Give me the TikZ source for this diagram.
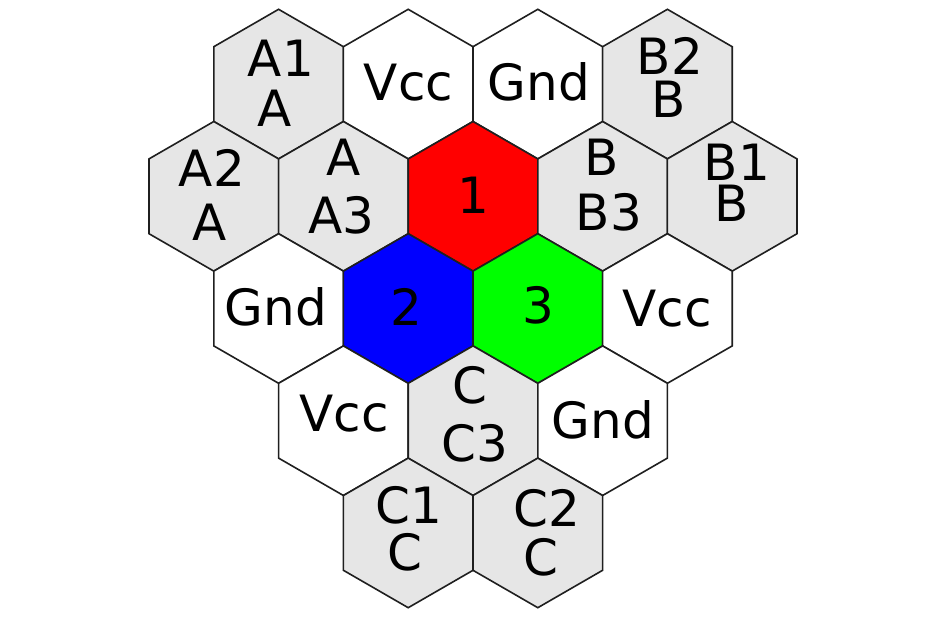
\documentclass[tikz,border=0pt]{standalone}
\usepackage{fontspec}
\setmainfont{DejaVu Sans}
\definecolor{hexgrey}{HTML}{E6E6E6}
\definecolor{hexred}{HTML}{FF0000}
\definecolor{hexblue}{HTML}{0000FF}
\definecolor{hexgreen}{HTML}{00FF00}
\newcommand\hexcell[3]{\filldraw[hexline, fill=#3] (#1,#2) ++(0,-74.8) -- ++(64.8,37.4) -- ++(0,74.8) -- ++(-64.8,37.4) -- ++(-64.8,-37.4) -- ++(0,-74.8) -- cycle;}
\begin{document}
\begin{tikzpicture}[x=1pt,y=-1pt,
  hexline/.style={draw=black!88, line width=1.6pt, line join=miter},
  lbl/.style={anchor=base, inner sep=0pt, font=\fontsize{50}{50}\selectfont}]
\useasboundingbox (0,0) rectangle (944,624);
\fill[white] (0,0) rectangle (944,624);
% row 0
\hexcell{278.6}{84.1}{hexgrey}
\hexcell{408.2}{84.1}{white}
\hexcell{537.8}{84.1}{white}
\hexcell{667.4}{84.1}{hexgrey}
% row 1
\hexcell{213.8}{196.3}{hexgrey}
\hexcell{343.4}{196.3}{hexgrey}
\hexcell{473.0}{196.3}{hexred}
\hexcell{602.6}{196.3}{hexgrey}
\hexcell{732.2}{196.3}{hexgrey}
% row 2
\hexcell{278.6}{308.5}{white}
\hexcell{408.2}{308.5}{hexblue}
\hexcell{537.8}{308.5}{hexgreen}
\hexcell{667.4}{308.5}{white}
% row 3
\hexcell{343.4}{420.7}{white}
\hexcell{473.0}{420.7}{hexgrey}
\hexcell{602.6}{420.7}{white}
% row 4
\hexcell{408.2}{532.9}{hexgrey}
\hexcell{537.8}{532.9}{hexgrey}
% labels
\node[lbl] (a1a) at (281,76) {A1};
\node[lbl] (a1b) at (275,126) {A};
\node[lbl] (vcc1) at (408.5,100) {Vcc};
\node[lbl] (gnd1) at (539,100.7) {Gnd};
\node[lbl] (b2a) at (670,74) {B2};
\node[lbl] (b2b) at (669,117.3) {B};
\node[lbl] (a2a) at (212,186.7) {A2};
\node[lbl] (a2b) at (209.7,240) {A};
\node[lbl] (a3a) at (344,175) {A};
\node[lbl] (a3b) at (341.7,233) {A3};
\node[lbl] (one) at (473.5,213.3) {1};
\node[lbl] (b3a) at (602,175) {B};
\node[lbl] (b3b) at (609,230) {B3};
\node[lbl] (b1a) at (737,180) {B1};
\node[lbl] (b1b) at (732,221.7) {B};
\node[lbl] (gnd2) at (276,325) {Gnd};
\node[lbl] (two) at (406.7,325) {2};
\node[lbl] (three) at (538,323) {3};
\node[lbl] (vcc2) at (667,326.7) {Vcc};
\node[lbl] (vcc3) at (344,431.7) {Vcc};
\node[lbl] (c3a) at (469.7,403) {C};
\node[lbl] (c3b) at (475,461.7) {C3};
\node[lbl] (gnd3) at (603,438.3) {Gnd};
\node[lbl] (c1a) at (409,523) {C1};
\node[lbl] (c1b) at (405,570) {C};
\node[lbl] (c2a) at (546.7,526.7) {C2};
\node[lbl] (c2b) at (541,575) {C};
\end{tikzpicture}
\end{document}
